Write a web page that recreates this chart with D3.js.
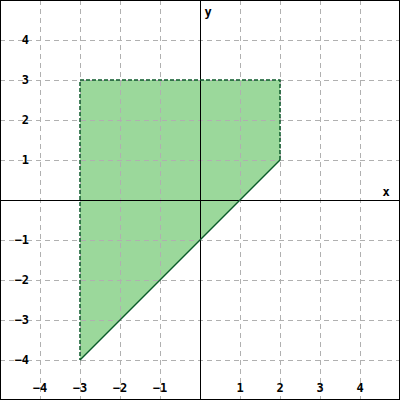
<!DOCTYPE html>
<html><head><meta charset="utf-8">
<script src="https://cdn.jsdelivr.net/npm/d3@7"></script>
<style>body{margin:0;background:#fff}svg{display:block}</style>
</head><body><svg id="c" width="400" height="400"></svg>
<script>
// --- Data ---
const xTicks = [-4, -3, -2, -1, 1, 2, 3, 4];
const yTicks = [-4, -3, -2, -1, 1, 2, 3, 4];
const gridLines = [-4, -3, -2, -1, 1, 2, 3, 4];
const regionX = [-3, 2, 2, -3];
const regionY = [3, 3, 1, -4];
const solidEdge = [[2, 1], [-3, -4]];

const svg = d3.select('#c');
const x = d3.scaleLinear().domain([-5, 5]).range([0, 400]);
const y = d3.scaleLinear().domain([-5, 5]).range([400, 0]);
const font = '"DejaVu Sans Mono", "Liberation Mono", monospace';

// region fill
const pts = regionX.map((v, i) => [x(v), y(regionY[i])]);
svg.append('polygon').attr('points', pts.map(p => p.join(',')).join(' '))
    .attr('fill', '#9bd89b');

// grid
const g = svg.append('g').attr('stroke', '#b0b0b0').attr('stroke-dasharray', '5,4');
g.selectAll('.gx').data(gridLines).join('line')
    .attr('x1', d => x(d) + 0.5).attr('x2', d => x(d) + 0.5).attr('y1', 0).attr('y2', 400);
g.selectAll('.gy').data(gridLines).join('line')
    .attr('y1', d => y(d) + 0.5).attr('y2', d => y(d) + 0.5).attr('x1', 0).attr('x2', 400);

// axes
svg.append('line').attr('x1', 0).attr('x2', 400).attr('y1', y(0) + 0.5).attr('y2', y(0) + 0.5).attr('stroke', '#000');
svg.append('line').attr('y1', 0).attr('y2', 400).attr('x1', x(0) + 0.5).attr('x2', x(0) + 0.5).attr('stroke', '#000');

// region border: dashed edges
const edges = svg.append('g').attr('stroke', '#0b5a2a').attr('stroke-width', 1.5).attr('fill', 'none');
edges.append('polyline')
    .attr('points', [pts[2], pts[1], pts[0], pts[3]].map(p => p.join(',')).join(' '))
    .attr('stroke-dasharray', '4,2');
edges.append('line')
    .attr('x1', x(solidEdge[0][0])).attr('y1', y(solidEdge[0][1]))
    .attr('x2', x(solidEdge[1][0])).attr('y2', y(solidEdge[1][1]));

// tick labels
const t = svg.append('g').attr('font-family', font).attr('font-size', 12).attr('font-weight', 'bold').attr('fill', '#000');
t.selectAll('.xl').data(xTicks).join('text')
    .attr('x', d => x(d)).attr('y', 392).attr('text-anchor', 'middle').text(d => d < 0 ? '\u2212' + (-d) : d);
t.selectAll('.yl').data(yTicks).join('text')
    .attr('x', 29).attr('y', d => y(d) + 4).attr('text-anchor', 'end').text(d => d < 0 ? '\u2212' + (-d) : d);
t.append('text').attr('x', 386).attr('y', 196).attr('text-anchor', 'middle').text('x');
t.append('text').attr('x', 208).attr('y', 16).attr('text-anchor', 'middle').text('y');

// frame
svg.append('rect').attr('x', 0.5).attr('y', 0.5).attr('width', 399).attr('height', 399)
    .attr('fill', 'none').attr('stroke', '#000');
</script></body></html>
